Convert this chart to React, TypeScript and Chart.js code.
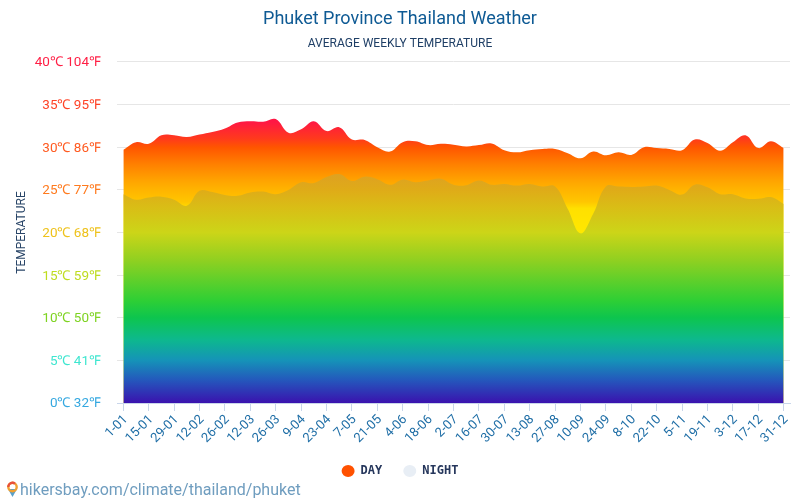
import React, { useEffect, useRef } from "react";
import { Chart, registerables } from "chart.js";

Chart.register(...registerables);

const weeks = [
  "1-01","8-01","15-01","22-01","29-01","5-02","12-02","19-02","26-02","5-03","12-03","19-03","26-03",
  "2-04","9-04","16-04","23-04","30-04","7-05","14-05","21-05","28-05","4-06","11-06","18-06","25-06",
  "2-07","9-07","16-07","23-07","30-07","6-08","13-08","20-08","27-08","3-09","10-09","17-09","24-09",
  "1-10","8-10","15-10","22-10","29-10","5-11","12-11","19-11","26-11","3-12","10-12","17-12","24-12","31-12",
];
const dayTemps = [
  29.7,30.6,30.4,31.4,31.4,31.2,31.5,31.8,32.2,32.9,33.05,33.0,33.3,31.7,32.1,33.05,31.9,32.35,30.9,30.85,
  30.0,29.5,30.6,30.7,30.25,30.4,30.3,30.1,30.25,30.45,29.65,29.4,29.65,29.8,29.8,29.3,28.7,29.5,29.05,29.4,
  29.1,30.0,29.9,29.8,29.65,30.9,30.5,29.6,30.6,31.4,29.9,30.7,29.9,
];
const nightTemps = [
  24.5,23.85,24.1,24.2,23.85,23.15,24.9,24.75,24.4,24.3,24.7,24.8,24.5,25.0,25.9,25.8,26.5,26.85,26.05,26.55,
  26.25,25.6,26.2,25.9,26.1,26.3,25.6,25.55,26.1,25.6,25.7,25.5,25.7,25.4,25.4,22.75,19.9,22.2,25.4,25.4,
  25.35,25.4,25.5,25.0,24.45,25.6,25.3,24.5,24.5,24.0,23.95,24.15,23.35,
];
const seriesNames = ["DAY", "NIGHT"];
const yTickValues = [0, 5, 10, 15, 20, 25, 30, 35, 40];
const yTickLabels = ["0℃ 32℉","5℃ 41℉","10℃ 50℉","15℃ 59℉","20℃ 68℉","25℃ 77℉","30℃ 86℉","35℃ 95℉","40℃ 104℉"];
const yTickColors = ["#35a8e0","#3fe6d0","#7ed321","#bfdc20","#eec21c","#ff7a1e","#ff5a20","#ff4226","#ff1f45"];

const dayStops: [number, string][] = [
  [20,"#ffe800"],[22.8,"#ffe000"],[23.6,"#ffc600"],[25,"#ffb400"],[26,"#ffa500"],[28,"#ff8000"],[30,"#ff5500"],[31,"#ff3a1c"],[33,"#ff1744"],[40,"#ff1744"],
];
const nightStops: [number, string][] = [
  [0,"#3a12ae"],[2.7,"#2458bc"],[5,"#1593b8"],[7.4,"#0db88e"],[10,"#0dc54e"],[12,"#2ecf35"],[16.7,"#8fd021"],[20,"#ccd518"],[23,"#d9bd16"],[25,"#dfab18"],[27,"#dea022"],
];

function makeGradient(chart: any, stops: [number, string][]) {
  const area = chart.chartArea;
  if (!area) return "#ffffff";
  const y = chart.scales.y;
  const g = chart.ctx.createLinearGradient(0, y.getPixelForValue(0), 0, y.getPixelForValue(40));
  stops.forEach(([t, c]) => g.addColorStop(t / 40, c));
  return g;
}

const footerPlugin = {
  id: "footer",
  afterDraw(chart: any) {
    const c = chart.ctx;
    c.save();
    c.font = "16px Roboto";
    c.fillStyle = "#6f9dbf";
    c.textAlign = "left";
    c.textBaseline = "alphabetic";
    c.fillText("hikersbay.com/climate/thailand/phuket", 20, 495);
    c.beginPath();
    c.moveTo(8, 489);
    c.lineTo(12.5, 497);
    c.lineTo(17, 489);
    c.closePath();
    c.fillStyle = "#5aa0c8";
    c.fill();
    c.beginPath();
    c.arc(12.5, 487, 4.2, 0, Math.PI * 2);
    c.lineWidth = 2.4;
    c.strokeStyle = "#f0a030";
    c.stroke();
    c.beginPath();
    c.arc(12.5, 487, 4.2, Math.PI, Math.PI * 1.7);
    c.strokeStyle = "#e8503a";
    c.stroke();
    c.restore();
  },
};

export default function App() {
  const ref = useRef<HTMLCanvasElement>(null);
  useEffect(() => {
    const chart = new Chart(ref.current!, {
      type: "line",
      data: {
        labels: weeks,
        datasets: [
          {
            label: seriesNames[0],
            data: dayTemps,
            order: 2,
            fill: "origin",
            tension: 0.4,
            borderWidth: 0,
            pointRadius: 0,
            backgroundColor: (ctx: any) => makeGradient(ctx.chart, dayStops),
          },
          {
            label: seriesNames[1],
            data: nightTemps,
            order: 1,
            fill: "origin",
            tension: 0.4,
            borderWidth: 0,
            pointRadius: 0,
            backgroundColor: (ctx: any) => makeGradient(ctx.chart, nightStops),
          },
        ],
      },
      options: {
        responsive: false,
        animation: false,
        devicePixelRatio: 1,
        layout: { autoPadding: false, padding: { top: 9, right: 10, bottom: 13, left: 10 } },
        plugins: {
          title: {
            display: true,
            text: "Phuket Province Thailand Weather",
            color: "#0e5a94",
            font: { family: "Roboto", size: 18, weight: "normal" },
            padding: { top: 0, bottom: 6 },
          },
          subtitle: {
            display: true,
            text: "AVERAGE WEEKLY TEMPERATURE",
            color: "#1f3f66",
            font: { family: "Roboto", size: 12, weight: "normal" },
            padding: { top: 0, bottom: 11 },
          },
          legend: {
            position: "bottom",
            labels: {
              usePointStyle: true,
              pointStyle: "circle",
              boxHeight: 8.5,
              pointStyleWidth: 13,
              padding: 21,
              color: "#26375c",
              font: { family: "DejaVu Sans Mono", size: 12, weight: "bold" },
              generateLabels: () =>
                seriesNames.map((text, i) => ({
                  text,
                  datasetIndex: i,
                  fillStyle: i === 0 ? "#ff5100" : "#e8eef5",
                  strokeStyle: "transparent",
                  lineWidth: 0,
                  pointStyle: "circle",
                  fontColor: "#26375c",
                  hidden: false,
                })),
            },
          },
          tooltip: { enabled: false },
        },
        scales: {
          x: {
            type: "category",
            offset: true,
            afterBuildTicks: (s: any) => {
              s.ticks = s.ticks.filter((_: any, i: number) => i % 2 === 0);
            },
            afterFit: (s: any) => {
              s.height = 41;
            },
            grid: {
              offset: false,
              drawOnChartArea: false,
              drawTicks: true,
              tickLength: 8,
              color: "#c9d6ea",
            },
            border: { color: "#c9d6ea", width: 1 },
            ticks: {
              autoSkip: false,
              minRotation: 45,
              maxRotation: 45,
              padding: 1,
              labelOffset: 2.5,
              color: "#1f6ea6",
              font: { family: "Roboto", size: 13 },
            },
          },
          y: {
            min: 0,
            max: 40,
            afterBuildTicks: (s: any) => {
              s.ticks = yTickValues.map((value) => ({ value }));
            },
            afterFit: (s: any) => {
              s.width = 107;
            },
            grid: { color: "#e6e6e6", drawTicks: false },
            border: { display: false },
            title: {
              display: true,
              text: "TEMPERATURE",
              color: "#2a4668",
              font: { family: "Roboto", size: 12 },
              padding: { top: 5, bottom: 0 },
            },
            ticks: {
              padding: 16,
              labelOffset: 1,
              font: { family: "Roboto", size: 13.5 },
              color: (ctx: any) => yTickColors[yTickValues.indexOf(ctx.tick.value)],
              callback: (v: any) => yTickLabels[yTickValues.indexOf(Number(v))],
            },
          },
        },
      },
      plugins: [footerPlugin],
    } as any);
    return () => chart.destroy();
  }, []);
  return (
    <div style={{ position: "absolute", left: 0, top: 0, width: 800, height: 500, background: "#fff" }}>
      <canvas ref={ref} width={800} height={500} style={{ display: "block" }} />
    </div>
  );
}
